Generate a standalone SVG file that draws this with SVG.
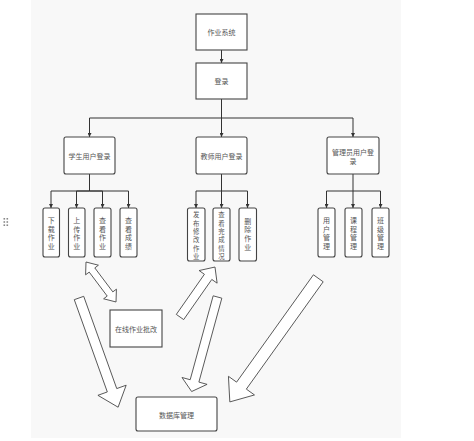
<svg xmlns="http://www.w3.org/2000/svg" width="474" height="441" viewBox="0 0 474 441">
<defs>
<marker id="ah" viewBox="0 0 10 10" refX="10" refY="5" markerWidth="4" markerHeight="4" orient="auto" markerUnits="strokeWidth">
<path d="M0,0 L10,5 L0,10 z" fill="#333"/>
</marker>
</defs>
<style>
.n{fill:#fff;stroke:#444;stroke-width:1.1}
.t{font-family:"Noto Sans CJK SC","Noto Sans",sans-serif;font-size:7px;fill:#555;text-anchor:middle;dominant-baseline:central}
.s{font-size:6.4px}
.c{fill:none;stroke:#333;stroke-width:1}
.b{fill:#fff;stroke:#444;stroke-width:0.8;stroke-linejoin:miter}
.d{fill:#888}
</style>
<rect x="0" y="0" width="474" height="441" fill="#fff"/>
<rect x="31" y="0" width="370" height="438" fill="#f8f8f8"/>
<g id="grip">
<rect class="d" x="3.5" y="218" width="1.6" height="1.6"/><rect class="d" x="6.5" y="218" width="1.6" height="1.6"/>
<rect class="d" x="3.5" y="221.2" width="1.6" height="1.6"/><rect class="d" x="6.5" y="221.2" width="1.6" height="1.6"/>
<rect class="d" x="3.5" y="224.4" width="1.6" height="1.6"/><rect class="d" x="6.5" y="224.4" width="1.6" height="1.6"/>
</g>
<g id="connectors">
<path class="c" d="M221.5,50 V63" marker-end="url(#ah)"/>
<path class="c" d="M221.5,99 V118 H89.5 V137" marker-end="url(#ah)"/>
<path class="c" d="M221.5,118 V137" marker-end="url(#ah)"/>
<path class="c" d="M221.5,118 H353 V137" marker-end="url(#ah)"/>
<path class="c" d="M89.5,174 V191 H51 V208" marker-end="url(#ah)"/>
<path class="c" d="M89.5,191 H76.5 V208" marker-end="url(#ah)"/>
<path class="c" d="M89.5,191 H102.5 V208" marker-end="url(#ah)"/>
<path class="c" d="M89.5,191 H128.5 V208" marker-end="url(#ah)"/>
<path class="c" d="M221.5,174 V191 H196 V208" marker-end="url(#ah)"/>
<path class="c" d="M221.5,191 V208" marker-end="url(#ah)"/>
<path class="c" d="M221.5,191 H247.5 V208" marker-end="url(#ah)"/>
<path class="c" d="M353,174 V191 H326.5 V208" marker-end="url(#ah)"/>
<path class="c" d="M353,191 V208" marker-end="url(#ah)"/>
<path class="c" d="M353,191 H380.5 V208" marker-end="url(#ah)"/>
</g>
<g id="block-arrows">
<polygon class="b" transform="translate(86,262) rotate(53.1)" points="0,0 10,-8 10,-3.5 40,-3.5 40,-8 50,0 40,8 40,3.5 10,3.5 10,8"/>
<polygon class="b" transform="translate(79,298) rotate(70.3)" points="0,-5 98,-5 98,-15 116,0 98,15 98,5 0,5"/>
<polygon class="b" transform="translate(180,317) rotate(-55)" points="0,-4.5 49,-4.5 49,-11 61,0 49,11 49,4.5 0,4.5"/>
<polygon class="b" transform="translate(217.5,297) rotate(105.3)" points="0,-4.5 87,-4.5 87,-13 98,0 87,13 87,4.5 0,4.5"/>
<polygon class="b" transform="translate(318.3,278.3) rotate(125.6)" points="0,-6 132,-6 132,-16 152,0 132,16 132,6 0,6"/>
</g>
<g id="n-system"><rect class="n" x="196" y="14" width="51" height="36"/><text class="t" x="221.5" y="32">作业系统</text></g>
<g id="n-login"><rect class="n" x="196" y="63" width="51" height="36"/><text class="t" x="221.5" y="81">登录</text></g>
<g id="n-student"><rect class="n" x="64" y="137" width="51" height="37" rx="2"/><text class="t" x="89.5" y="155.5">学生用户登录</text></g>
<g id="n-teacher"><rect class="n" x="196" y="137" width="51" height="37" rx="2"/><text class="t" x="221.5" y="155.5">教师用户登录</text></g>
<g id="n-admin"><rect class="n" x="327" y="137" width="52" height="37" rx="2"/><text class="t" x="353" y="152">管理员用户登</text><text class="t" x="353" y="160.5">录</text></g>
<g id="n-download"><rect class="n" x="43" y="208" width="16.5" height="49" rx="2"/><text class="t"><tspan x="51.2" y="220">下</tspan><tspan x="51.2" y="228.7">载</tspan><tspan x="51.2" y="237.4">作</tspan><tspan x="51.2" y="246.1">业</tspan></text></g>
<g id="n-upload"><rect class="n" x="68.5" y="208" width="16.5" height="49" rx="2"/><text class="t"><tspan x="76.7" y="220">上</tspan><tspan x="76.7" y="228.7">传</tspan><tspan x="76.7" y="237.4">作</tspan><tspan x="76.7" y="246.1">业</tspan></text></g>
<g id="n-viewhw"><rect class="n" x="94" y="208" width="17" height="49" rx="2"/><text class="t"><tspan x="102.5" y="220">查</tspan><tspan x="102.5" y="228.7">看</tspan><tspan x="102.5" y="237.4">作</tspan><tspan x="102.5" y="246.1">业</tspan></text></g>
<g id="n-grades"><rect class="n" x="120" y="208" width="17" height="49" rx="2"/><text class="t"><tspan x="128.5" y="220">查</tspan><tspan x="128.5" y="228.7">看</tspan><tspan x="128.5" y="237.4">成</tspan><tspan x="128.5" y="246.1">绩</tspan></text></g>
<g id="n-publish"><rect class="n" x="187.5" y="208" width="17.5" height="53" rx="2"/><text class="t s"><tspan x="196.2" y="214.3">发</tspan><tspan x="196.2" y="222.6">布</tspan><tspan x="196.2" y="230.9">修</tspan><tspan x="196.2" y="239.2">改</tspan><tspan x="196.2" y="247.5">作</tspan><tspan x="196.2" y="255.8">业</tspan></text></g>
<g id="n-status"><rect class="n" x="213" y="208" width="17" height="53" rx="2"/><text class="t s"><tspan x="221.5" y="214.3">查</tspan><tspan x="221.5" y="222.6">看</tspan><tspan x="221.5" y="230.9">完</tspan><tspan x="221.5" y="239.2">成</tspan><tspan x="221.5" y="247.5">情</tspan><tspan x="221.5" y="255.8">况</tspan></text></g>
<g id="n-delete"><rect class="n" x="239" y="208" width="17.5" height="53" rx="2"/><text class="t"><tspan x="247.7" y="220.5">删</tspan><tspan x="247.7" y="229.2">除</tspan><tspan x="247.7" y="237.9">作</tspan><tspan x="247.7" y="246.6">业</tspan></text></g>
<g id="n-users"><rect class="n" x="318" y="208" width="17" height="49" rx="2"/><text class="t"><tspan x="326.5" y="220">用</tspan><tspan x="326.5" y="228.7">户</tspan><tspan x="326.5" y="237.4">管</tspan><tspan x="326.5" y="246.1">理</tspan></text></g>
<g id="n-courses"><rect class="n" x="345" y="208" width="17" height="49" rx="2"/><text class="t"><tspan x="353.5" y="220">课</tspan><tspan x="353.5" y="228.7">程</tspan><tspan x="353.5" y="237.4">管</tspan><tspan x="353.5" y="246.1">理</tspan></text></g>
<g id="n-classes"><rect class="n" x="372" y="208" width="17" height="49" rx="2"/><text class="t"><tspan x="380.5" y="220">班</tspan><tspan x="380.5" y="228.7">级</tspan><tspan x="380.5" y="237.4">管</tspan><tspan x="380.5" y="246.1">理</tspan></text></g>
<g id="n-grading"><rect class="n" x="110" y="310" width="52" height="37"/><text class="t" x="136" y="329">在线作业批改</text></g>
<g id="n-db"><rect class="n" x="136" y="397" width="81" height="34" rx="2"/><text class="t" x="176.5" y="415">数据库管理</text></g>
</svg>
